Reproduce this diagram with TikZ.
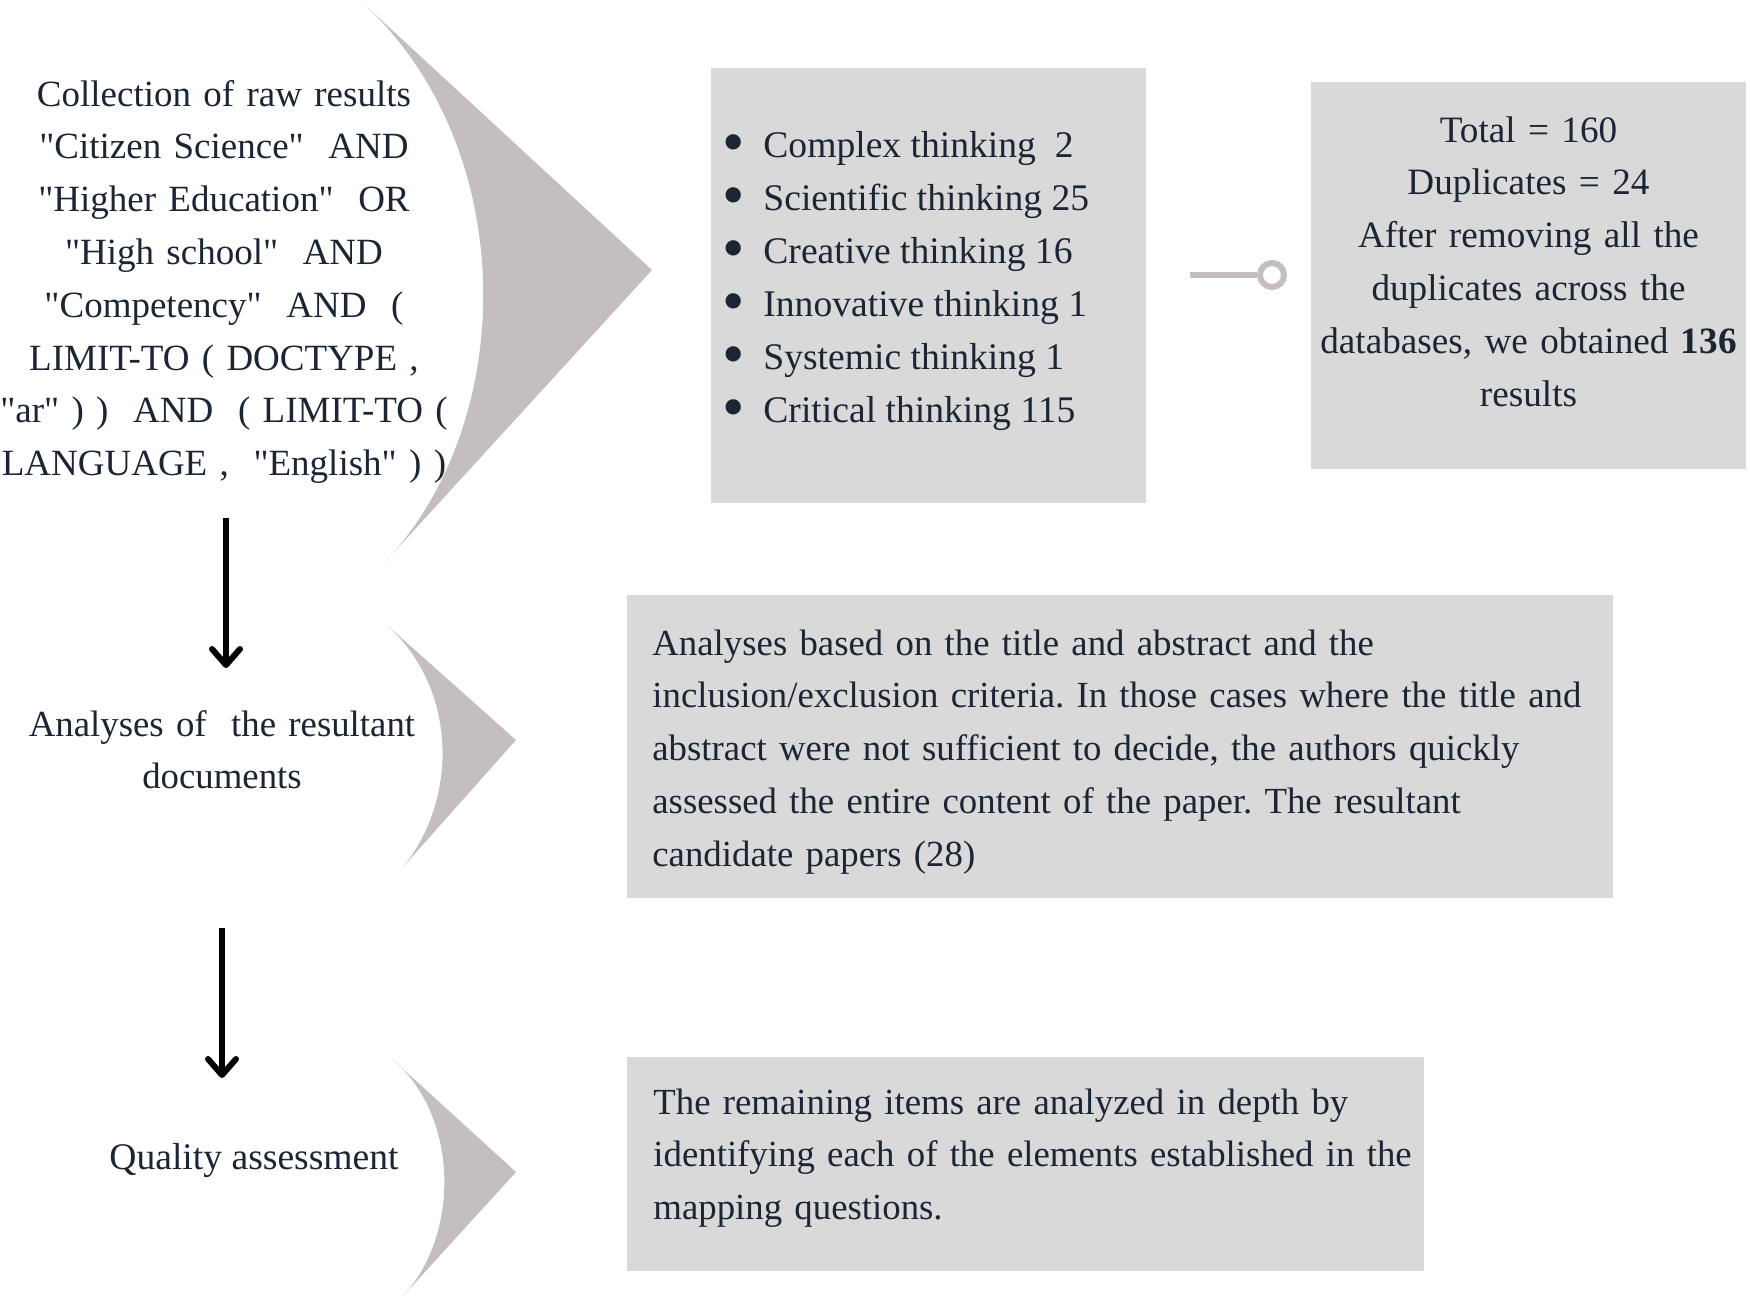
\documentclass[tikz,border=0pt]{standalone}
\usepackage{fontspec}
\usepackage{graphicx}
\setmainfont{Liberation Serif}[Ligatures=TeXOff]
\usetikzlibrary{arrows.meta}
\definecolor{inkblue}{HTML}{1B2534}
\definecolor{chevgray}{HTML}{C4BEBE}
\definecolor{boxgray}{HTML}{D9D9D9}
\newcommand{\listdot}{\smash{\raisebox{-3pt}{\scalebox{1.7}{\textbullet}}}}
\tikzset{
  txt/.style={font=\fontsize{#1}{26.4pt}\selectfont\frenchspacing, text=inkblue, inner sep=0pt},
  txt/.default=18.8pt,
  box/.style={fill=boxgray, inner sep=0pt},
  chev/.style={fill=chevgray},
  flow/.style={line width=3pt, -{Straight Barb[length=8pt,width=14pt,round]}},
  link/.style={draw=chevgray, line width=3pt},
}
\begin{document}
\begin{tikzpicture}[x=0.5pt,y=-0.5pt]
\useasboundingbox (0,0) rectangle (1750,1302);

% grey boxes
\node[box, minimum width=217.5pt, minimum height=217.5pt] (list) at (928.5,285.5) {};
\node[box, minimum width=217.5pt, minimum height=193.5pt] (total) at (1528.5,275.5) {};
\node[box, minimum width=493pt, minimum height=151.5pt] (screen) at (1120,746.5) {};
\node[box, minimum width=398.5pt, minimum height=107pt] (depth) at (1025.5,1164) {};

% chevrons
\fill[chev] (366,6) -- (652,270) -- (385,562) .. controls (519,420) and (519,150) .. (366,6) -- cycle;
\fill[chev] (388,626) -- (516,740) -- (403,867) .. controls (458,800) and (458,690) .. (388,626) -- cycle;
\fill[chev] (391,1058) -- (516,1172) -- (403,1296) .. controls (460,1235) and (460,1115) .. (391,1058) -- cycle;

% left column
\node[txt=18.5pt, anchor=base, text width=240pt, align=center] (query) at (224,106)
  {Collection of raw results\\ "Citizen Science"\ \ AND\\ "Higher Education"\ \ OR\\
   "High school"\ \ AND\\ "Competency"\ \ AND\ \ (\\ LIMIT-TO ( DOCTYPE ,\\
   "ar" ) )\ \ AND\ \ ( LIMIT-TO (\\ LANGUAGE ,\ \ "English" ) )};
\node[txt=18.4pt, anchor=base, text width=240pt, align=center] (analysis) at (222,736)
  {Analyses of\ \ the resultant\\ documents};
\node[txt, anchor=base] (quality) at (254,1169) {Quality assessment};

\coordinate (a1) at (226,518);
\coordinate (b1) at (226,668);
\coordinate (a2) at (222,928);
\coordinate (b2) at (222,1078);
\draw[flow] (a1) -- (b1);
\draw[flow] (a2) -- (b2);

% thinking list
\foreach \lbl [count=\i] in {Complex thinking\ \ 2, Scientific thinking 25, Creative thinking 16,
  Innovative thinking 1, Systemic thinking 1, Critical thinking 115}
  \node[txt, anchor=base west] (item\i) at (722,104+53*\i) {\makebox[20.5pt][l]{\listdot}\lbl};

% link to totals
\coordinate (c1) at (1190,275);
\node[circle, draw=chevgray, line width=3pt, minimum size=12pt, inner sep=0pt] (knob) at (1272,275) {};
\draw[link] (c1) -- (knob.west);

\node[txt=18.6pt, anchor=base, text width=225pt, align=center] (counts) at (1528.5,142)
  {Total = 160\\ Duplicates = 24\\ After removing all the\\ duplicates across the\\
   databases, we obtained \textbf{136}\\ results};

% box texts
\node[txt=18.4pt, anchor=base west, text width=490pt, align=left] (screentext) at (652,655)
  {Analyses based on the title and abstract and the\\
   inclusion/exclusion criteria. In those cases where the title and\\
   abstract were not sufficient to decide, the authors quickly\\
   assessed the entire content of the paper. The resultant\\
   candidate papers (28)};
\node[txt=18.4pt, anchor=base west, text width=395pt, align=left] (depthtext) at (653,1114)
  {The remaining items are analyzed in depth by\\
   identifying each of the elements established in the\\
   mapping questions.};
\end{tikzpicture}
\end{document}
